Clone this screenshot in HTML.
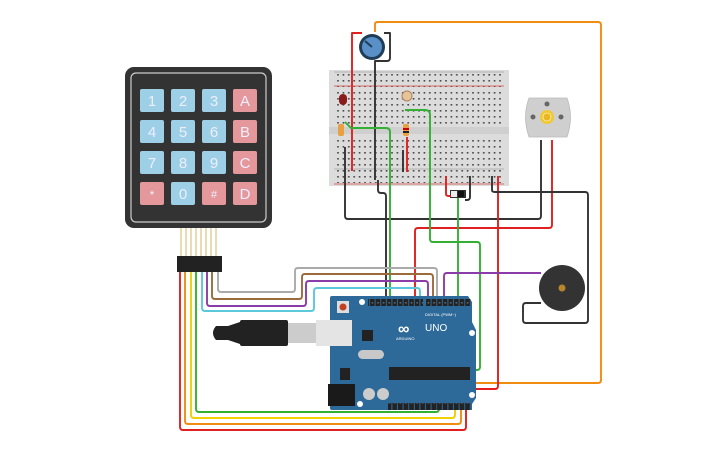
<!DOCTYPE html>
<html><head><meta charset="utf-8"><style>
html,body{margin:0;padding:0;background:#fff;width:725px;height:453px;overflow:hidden}
svg{display:block}
text{font-family:"Liberation Sans",sans-serif}
</style></head><body>
<svg width="725" height="453" viewBox="0 0 725 453" xmlns="http://www.w3.org/2000/svg">
<defs>
<pattern id="dots" x="336" y="0" width="5.4" height="6" patternUnits="userSpaceOnUse">
<rect x="1.2" y="2" width="1.6" height="1.6" fill="#444"/>
</pattern>
<pattern id="hdr" x="0" y="0" width="5.6" height="10" patternUnits="userSpaceOnUse">
<rect x="0.4" y="0" width="4.6" height="10" fill="#222"/><rect x="2" y="2" width="1.6" height="1.6" fill="#666"/>
</pattern>
</defs>

<!-- Keypad -->
<rect x="125" y="67" width="147" height="161" rx="9" fill="#333"/>
<rect x="131" y="73" width="135" height="149" rx="5" fill="none" stroke="#ccc" stroke-width="1.2"/>
<g font-size="15" fill="#eef" text-anchor="middle">
<g fill="#9dd0e6">
<rect x="140" y="89" width="24" height="23" rx="2"/><rect x="171" y="89" width="24" height="23" rx="2"/><rect x="202" y="89" width="24" height="23" rx="2"/>
<rect x="140" y="120" width="24" height="23" rx="2"/><rect x="171" y="120" width="24" height="23" rx="2"/><rect x="202" y="120" width="24" height="23" rx="2"/>
<rect x="140" y="151" width="24" height="23" rx="2"/><rect x="171" y="151" width="24" height="23" rx="2"/><rect x="202" y="151" width="24" height="23" rx="2"/>
<rect x="171" y="182" width="24" height="23" rx="2"/>
</g>
<g fill="#e5989b">
<rect x="233" y="89" width="24" height="23" rx="2"/><rect x="233" y="120" width="24" height="23" rx="2"/><rect x="233" y="151" width="24" height="23" rx="2"/><rect x="233" y="182" width="24" height="23" rx="2"/>
<rect x="140" y="182" width="24" height="23" rx="2"/><rect x="202" y="182" width="24" height="23" rx="2"/>
</g>
<text x="152" y="106">1</text><text x="183" y="106">2</text><text x="214" y="106">3</text><text x="245" y="106">A</text>
<text x="152" y="137">4</text><text x="183" y="137">5</text><text x="214" y="137">6</text><text x="245" y="137">B</text>
<text x="152" y="168">7</text><text x="183" y="168">8</text><text x="214" y="168">9</text><text x="245" y="168">C</text>
<text x="152" y="199" font-size="12">*</text><text x="183" y="199">0</text><text x="214" y="198" font-size="11">#</text><text x="245" y="199">D</text>
</g>
<g stroke="#e2cf9a" stroke-width="1.5">
<line x1="181" y1="228" x2="181" y2="256"/><line x1="186" y1="228" x2="186" y2="256"/><line x1="191" y1="228" x2="191" y2="256"/><line x1="196" y1="228" x2="196" y2="256"/>
<line x1="201" y1="228" x2="201" y2="256"/><line x1="206" y1="228" x2="206" y2="256"/><line x1="211" y1="228" x2="211" y2="256"/><line x1="216" y1="228" x2="216" y2="256"/>
</g>
<rect x="177" y="256" width="45" height="16" fill="#222"/>

<!-- Breadboard -->
<rect x="329" y="70" width="180" height="116" fill="#dcdcdc"/>
<rect x="329" y="127" width="180" height="7" fill="#cfcfcf"/>
<rect x="336" y="73" width="166" height="14" fill="url(#dots)"/>
<rect x="336" y="92" width="166" height="32" fill="url(#dots)"/>
<rect x="336" y="136" width="166" height="30" fill="url(#dots)"/>
<rect x="336" y="169" width="166" height="14" fill="url(#dots)"/>
<line x1="334" y1="86" x2="504" y2="86" stroke="#d44" stroke-width="0.8"/>
<line x1="334" y1="72" x2="504" y2="72" stroke="#888" stroke-width="0.6"/>
<line x1="334" y1="169" x2="504" y2="169" stroke="#888" stroke-width="0.6"/>
<line x1="334" y1="184" x2="504" y2="184" stroke="#d44" stroke-width="0.8"/>
<rect x="339" y="94" width="8" height="11" rx="4" fill="#8b1a1a"/>
<rect x="338" y="124" width="6" height="12" rx="2" fill="#e8a040"/>
<rect x="403" y="124" width="6" height="12" rx="2" fill="#e8a040"/>
<rect x="403" y="128" width="6" height="2" fill="#c00"/><rect x="403" y="131" width="6" height="2" fill="#222"/>
<circle cx="407" cy="96" r="5" fill="#e6c49a" stroke="#b08060"/>
<!-- Potentiometer -->
<circle cx="372" cy="47" r="13" fill="#1f3d57"/>
<circle cx="372" cy="47" r="10" fill="#5a90c8"/>
<line x1="372" y1="47" x2="365" y2="41" stroke="#1f3d57" stroke-width="2"/>
<!-- Motor -->
<path d="M529 98 H567 Q574 117 567 137 H529 Q522 117 529 98Z" fill="#cfcfcf" stroke="#bbb" stroke-width="0.8" stroke-linejoin="round"/>
<circle cx="547" cy="104" r="2.5" fill="#666"/><circle cx="533" cy="117" r="2.5" fill="#666"/><circle cx="561" cy="117" r="2.5" fill="#666"/>
<circle cx="547" cy="117" r="7" fill="#f2c830"/><circle cx="547" cy="117" r="4" fill="#e8b820" stroke="#fff" stroke-width="0.6"/>
<!-- Switch -->
<rect x="450" y="190" width="16" height="8" fill="#333"/><rect x="458" y="191" width="6" height="6" fill="#111"/><rect x="451" y="191" width="6" height="6" fill="#eee"/>
<!-- Buzzer -->
<circle cx="562" cy="288" r="23" fill="#333"/><circle cx="562" cy="288" r="3.5" fill="#b8862a"/>

<!-- Wires -->
<g fill="none" stroke-width="1.9" stroke-linejoin="round">
<path d="M375 32 V24 Q375 22 378 22 H598 Q601 22 601 25 V380 Q601 383 598 383 H452 Q449 383 449 386 V405" stroke="#f08c10"/>
<path d="M362 33 H352 V171" stroke="#e02020"/>
<path d="M384 33 H390 V58 Q390 61 387 61 H375 V180" stroke="#333"/>
<path d="M345 172 V216 Q345 219 348 219 H538 Q541 219 541 216 V140" stroke="#333"/>
<path d="M552 140 V225 Q552 228 549 228 H418 Q415 228 415 231 V301" stroke="#e02020"/>
<path d="M345 122 L351 128 H386 Q390 128 390 132 V301" stroke="#33b033"/>
<path d="M378 180 V190 Q378 193 381 193 H383 Q386 193 386 196 V301" stroke="#333"/>
<path d="M405 110 H425 Q430 110 430 115 V239 Q430 242 433 242 H477 Q480 242 480 245 V367 Q480 370 477 370 H447 Q444 370 444 373 V405" stroke="#33b033"/>
<path d="M458 198 V301" stroke="#33b033"/>
<path d="M446 176 V194 Q446 196 449 196 H451" stroke="#e02020"/>
<path d="M470 176 V197 Q470 200 467 200 H465" stroke="#333"/>
<path d="M498 176 V386 Q498 389 495 389 H416 Q413 389 413 392 V405" stroke="#e02020"/>
<path d="M492 176 V190 Q492 192 495 192 H585 Q588 192 588 195 V320 Q588 323 585 323 H526 Q523 323 523 320 V306 Q523 303 526 303 H541" stroke="#333"/>
<path d="M541 273 H447 Q444 273 444 276 V301" stroke="#8a3ca8"/>
<path d="M407 137 V172" stroke="#e02020"/>
<path d="M403 150 V172" stroke="#333"/>
<path d="M345 147 V172" stroke="#333"/>
<path d="M218 272 V289 Q218 292 221 292 H292 Q295 292 295 289 V271 Q295 268 298 268 H434 Q437 268 437 271 V301" stroke="#aaa"/>
<path d="M212 272 V296 Q212 299 215 299 H299 Q302 299 302 296 V277 Q302 274 305 274 H430 Q433 274 433 277 V301" stroke="#9c6b3c"/>
<path d="M207 272 V303 Q207 306 210 306 H303 Q306 306 306 303 V284 Q306 281 309 281 H425 Q428 281 428 284 V301" stroke="#8a3ca8"/>
<path d="M202 272 V308 Q202 311 205 311 H311 Q314 311 314 308 V291 Q314 288 317 288 H417 Q420 288 420 291 V301" stroke="#5bc8dc"/>
<path d="M196 272 V409 Q196 412 199 412 H436 Q439 412 439 409 V405" stroke="#33b033"/>
<path d="M191 272 V415 Q191 418 194 418 H452 Q455 418 455 415 V405" stroke="#f0d000"/>
<path d="M185 272 V421 Q185 424 188 424 H458 Q461 424 461 421 V405" stroke="#f08c10"/>
<path d="M180 272 V427 Q180 430 183 430 H463 Q466 430 466 427 V405" stroke="#e02020"/>
</g>

<!-- Arduino -->
<path d="M332 296 H468 L472 302 V322 L476 330 V398 L472 404 V410 H332 Q330 410 330 408 V298 Q330 296 332 296Z" fill="#2e6a99"/>
<rect x="368" y="299" width="55" height="7" fill="url(#hdr)"/>
<rect x="426" y="299" width="45" height="7" fill="url(#hdr)"/>
<rect x="388" y="403" width="53" height="7" fill="url(#hdr)"/>
<rect x="436" y="403" width="35" height="7" fill="url(#hdr)"/>
<rect x="389" y="367" width="81" height="13" fill="#222"/>
<rect x="337" y="301" width="12" height="12" fill="#ddd"/><circle cx="343" cy="307" r="3.5" fill="#c04020"/>
<circle cx="362" cy="302" r="3" fill="#fff"/><circle cx="472" cy="333" r="3" fill="#fff"/><circle cx="472" cy="395" r="3" fill="#fff"/><circle cx="360" cy="404" r="3" fill="#fff"/>
<rect x="362" y="330" width="11" height="11" fill="#222"/>
<rect x="358" y="350" width="26" height="9" rx="4.5" fill="#c8c8c8"/>
<rect x="340" y="368" width="10" height="12" fill="#222"/>
<circle cx="369" cy="394" r="6" fill="#ccc"/><circle cx="383" cy="394" r="6" fill="#ccc"/>
<rect x="328" y="384" width="27" height="22" fill="#1a1a1a"/>
<text x="398" y="334" font-size="16" fill="#fff" font-weight="bold">∞</text>
<text x="425" y="331" font-size="10" fill="#fff">UNO</text>
<text x="396" y="340" font-size="4" fill="#fff">ARDUINO</text>
<text x="425" y="316" font-size="4" fill="#fff">DIGITAL (PWM~)</text>
<!-- USB -->
<rect x="316" y="320" width="36" height="26" fill="#e4e4e4"/>
<rect x="288" y="323" width="28" height="20" fill="#ccc"/>
<rect x="240" y="320" width="48" height="26" rx="2" fill="#222"/>
<path d="M240 322 L228 326 H216 Q210 333 216 340 H228 L240 344Z" fill="#222"/>
</svg>
</body></html>
